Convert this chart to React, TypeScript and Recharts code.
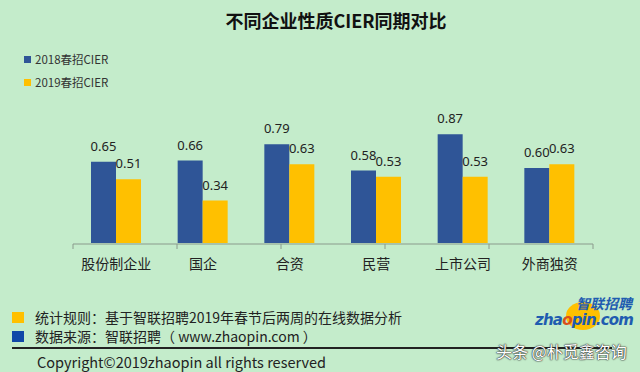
import React from 'react';
import { BarChart, Bar, XAxis, YAxis, LabelList } from 'recharts';

const categories = ['股份制企业', '国企', '合资', '民营', '上市公司', '外商独资'];
const cier2018 = [0.65, 0.66, 0.79, 0.58, 0.87, 0.6];
const cier2019 = [0.51, 0.34, 0.63, 0.53, 0.53, 0.63];
const seriesNames = ['2018春招CIER', '2019春招CIER'];
const boundaryTicks = [0, 1, 2, 3, 4, 5, 6];

const BLUE = '#2f5597';
const YELLOW = '#ffc000';
const BG = '#c4eccb';
const CJK = '"Noto Sans CJK SC", "Noto Sans", sans-serif';
const labelStyle = { fontSize: 13, fill: '#222', fontFamily: '"Noto Sans", sans-serif' };

const data = categories.map((name, i) => ({
  name,
  a: cier2018[i],
  b: cier2019[i],
}));

const fmt = (v: number) => v.toFixed(2);

export default function App() {
  return (
    <div
      style={{
        position: 'absolute',
        left: 0,
        top: 0,
        width: 640,
        height: 372,
        background: BG,
        fontFamily: CJK,
        overflow: 'hidden',
      }}
    >
      <div
        style={{
          position: 'absolute',
          left: 0,
          width: 672,
          top: 8,
          textAlign: 'center',
          fontSize: 18,
          fontWeight: 700,
          color: '#111',
          lineHeight: '24px',
        }}
      >
        不同企业性质CIER同期对比
      </div>

      {/* legend */}
      {seriesNames.map((s, i) => (
        <div
          key={s}
          style={{
            position: 'absolute',
            left: 24,
            top: 51 + i * 23,
            height: 16,
            display: 'flex',
            alignItems: 'center',
            fontSize: 11.5,
            color: '#333',
          }}
        >
          <span style={{ width: 7, height: 7, background: i === 0 ? BLUE : YELLOW, marginRight: 4 }} />
          {s}
        </div>
      ))}

      <BarChart
        width={640}
        height={372}
        data={data}
        margin={{ top: 118, right: 47, bottom: 118, left: 73 }}
        barGap={0}
        barSize={25}
      >
        <YAxis hide domain={[0, 1]} />
        <XAxis
          dataKey="name"
          height={1}
          axisLine={false}
          tickLine={false}
          tickMargin={10}
          tick={{ fontSize: 14, fill: '#222', fontFamily: CJK }}
          interval={0}
        />
        <XAxis
          xAxisId="b"
          type="number"
          domain={[0, 6]}
          ticks={boundaryTicks}
          height={10}
          stroke="#8a9a8c"
          tickSize={5}
          tickFormatter={() => ''}
        />
        <Bar dataKey="a" fill={BLUE} isAnimationActive={false}>
          <LabelList dataKey="a" position="top" offset={11} formatter={fmt} style={labelStyle} />
        </Bar>
        <Bar dataKey="b" fill={YELLOW} isAnimationActive={false}>
          <LabelList dataKey="b" position="top" offset={11} formatter={fmt} style={labelStyle} />
        </Bar>
      </BarChart>

      {/* footer notes */}
      <div style={{ position: 'absolute', left: 12, top: 312, width: 12, height: 11, background: YELLOW }} />
      <div style={{ position: 'absolute', left: 12, top: 331, width: 12, height: 11, background: '#1048a8' }} />
      <div style={{ position: 'absolute', left: 35, top: 307, fontSize: 14, lineHeight: '20px', color: '#222' }}>
        统计规则：基于智联招聘2019年春节后两周的在线数据分析
      </div>
      <div style={{ position: 'absolute', left: 35, top: 326, fontSize: 14, lineHeight: '20px', color: '#222' }}>
        数据来源：智联招聘（ www.zhaopin.com ）
      </div>
      <div style={{ position: 'absolute', left: 12, top: 347, width: 600, height: 1.5, background: '#222' }} />
      <div style={{ position: 'absolute', left: 37, top: 352, fontSize: 14.5, lineHeight: '20px', color: '#222' }}>
        Copyright©2019zhaopin all rights reserved
      </div>

      {/* logo */}
      <div style={{ position: 'absolute', left: 566, top: 302, width: 34, height: 28, borderRadius: '50%', background: YELLOW }} />
      <div
        style={{
          position: 'absolute',
          left: 576,
          top: 295,
          fontSize: 14,
          fontStyle: 'italic',
          fontWeight: 700,
          color: '#1f5cb0',
          lineHeight: '16px',
        }}
      >
        智联招聘
      </div>
      <div
        style={{
          position: 'absolute',
          left: 535,
          top: 312,
          fontSize: 15,
          fontStyle: 'italic',
          fontWeight: 700,
          color: '#1f5cb0',
          fontFamily: '"DejaVu Sans", sans-serif',
          lineHeight: '16px',
          letterSpacing: -0.8,
        }}
      >
        zha<span style={{ color: '#d9501c' }}>o</span>pin.com
      </div>

      {/* watermark */}
      <div
        style={{
          position: 'absolute',
          left: 496,
          top: 341,
          fontSize: 16,
          color: '#fff',
          lineHeight: '20px',
          textShadow: '0 0 1px #333, 0 0 1px #333, 0 0 2px #333',
        }}
      >
        头条 @朴觅鑫咨询
      </div>
    </div>
  );
}
